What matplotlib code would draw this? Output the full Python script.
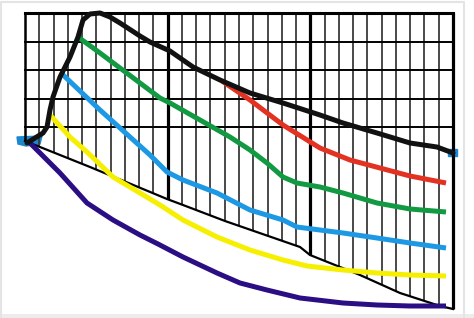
import matplotlib.pyplot as plt
import numpy as np

# canvas coordinates are the picture's pixels (y grows downwards)
W, H = 474, 318
X_LEFT, X_RIGHT, Y_TOP = 25, 453, 13
N_COLS = 30
H_ROWS = [13, 42, 70, 99, 127]

# lower boundary of the grid
base_x = [25, 90, 167, 183, 225, 300, 310, 360, 400, 440, 453]
base_y = [141, 167, 199, 205, 221, 247, 255, 275, 293, 306, 309]

# black envelope
env_x = [27, 43, 47, 50, 53, 60, 70, 78, 83, 90, 100, 110, 120, 140, 150, 170, 193, 220, 250, 283, 320, 343, 377, 410, 437, 453]
env_y = [143, 133, 127, 110, 97, 77, 57, 37, 20, 14, 13, 17, 23, 36, 42, 51, 67, 80, 93, 103, 115, 123, 133, 143, 147, 153]

red_x = [222, 250, 283, 320, 350, 380, 410, 446]
red_y = [81, 100, 125, 148, 160, 168, 176, 183]

green_x = [78, 100, 140, 160, 170, 200, 230, 250, 267, 283, 297, 320, 343, 377, 410, 446]
green_y = [37, 53, 83, 98, 103, 120, 137, 150, 163, 177, 183, 187, 193, 203, 209, 212]

blue_x = [61, 100, 150, 167, 183, 217, 250, 283, 297, 320, 343, 377, 410, 446]
blue_y = [73, 110, 155, 172, 180, 193, 210, 220, 227, 230, 233, 238, 243, 248]

yellow_x = [50, 70, 87, 113, 140, 160, 183, 217, 250, 283, 307, 343, 377, 410, 446]
yellow_y = [115, 137, 152, 177, 193, 205, 220, 237, 250, 260, 266, 270, 273, 275, 276]

purple_x = [30, 60, 87, 113, 140, 158, 183, 217, 240, 267, 300, 343, 377, 410, 446]
purple_y = [143, 173, 203, 220, 235, 244, 257, 273, 283, 290, 298, 303, 305, 306, 306]

fig = plt.figure(figsize=(W / 100, H / 100), dpi=100)
ax = fig.add_axes([0, 0, 1, 1])
ax.set_xlim(0, W)
ax.set_ylim(H, 0)
ax.axis('off')

# faint frame of the picture
ax.plot([1.5, 1.5, 464, 464], [318, 1.5, 1.5, 318], color='#e4e4e4', lw=1.5)
ax.fill_between([0, W], 314, 318, color='#ececec', lw=0)

# vertical grid lines down to the lower boundary
col_x = np.linspace(X_LEFT, X_RIGHT, N_COLS + 1)
col_bottom = np.interp(col_x, base_x, base_y)
for i, (cx, cb) in enumerate(zip(col_x, col_bottom)):
    if i == 0:
        w, c = 1.8, 'black'
    elif i % 10 == 0:
        w, c = 2.3, 'black'
    else:
        w, c = 1.3, '#3a3a3a'
    ax.plot([cx, cx], [Y_TOP, cb], color=c, lw=w, solid_capstyle='butt')

for hy in H_ROWS:
    ax.plot([X_LEFT, X_RIGHT], [hy, hy], color='black', lw=2.2 if hy == Y_TOP else 1.4)

ax.plot(base_x, base_y, color='black', lw=1.6)

kw = dict(lw=3.6, solid_joinstyle='round', solid_capstyle='butt')
ax.plot(purple_x, purple_y, color='#2c0e84', **kw)
ax.plot(yellow_x, yellow_y, color='#f6f000', **kw)
ax.plot(blue_x, blue_y, color='#1c98e4', **kw)
ax.plot(green_x, green_y, color='#129a42', **kw)
ax.plot(red_x, red_y, color='#e43222', **kw)
ax.plot(env_x, env_y, color='#111111', lw=3.6, solid_joinstyle='round', solid_capstyle='round')

# small blue markers at both ends of the envelope
ax.fill([17, 42, 40, 26, 18], [137, 136, 144, 146, 144], color='#1c88d0')
ax.fill([448, 457, 457, 448], [149, 149, 156, 156], color='#1c88d0')

fig.savefig('out.png', dpi=100)
